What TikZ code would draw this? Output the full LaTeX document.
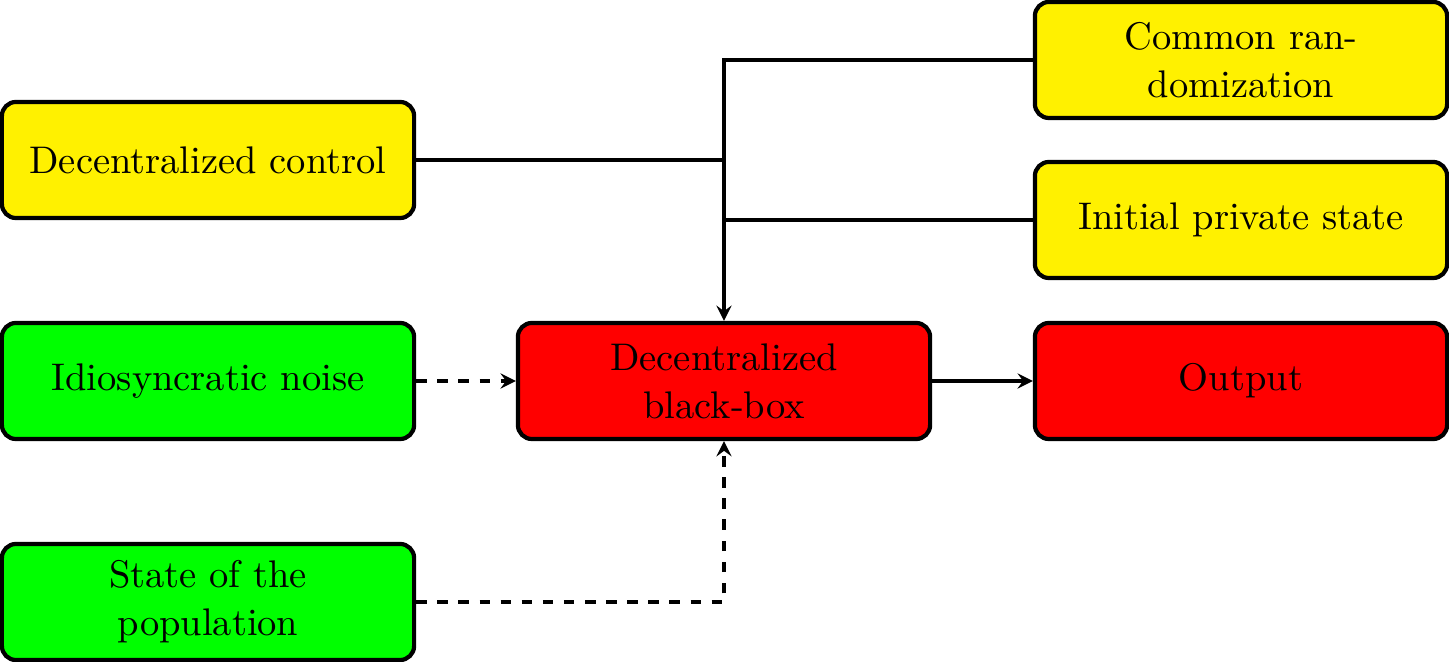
\documentclass[tikz,border=0pt,11pt]{standalone}
\usetikzlibrary{arrows}
\definecolor{boxyellow}{RGB}{255,241,0}
\tikzset{
  block/.style={draw,very thick,rounded corners,minimum width=4.12cm,minimum height=1.16cm,text width=3.7cm,align=center},
  link/.style={line width=0.9pt},
}
\begin{document}
\begin{tikzpicture}[>=stealth,x=0.01cm,y=-0.01cm]
  \useasboundingbox (0,0) rectangle (1449,662);
  \node[block,fill=boxyellow] (ctrl) at (208,160) {Decentralized control};
  \node[block,fill=boxyellow] (rand) at (1241,60) {Common randomization};
  \node[block,fill=boxyellow] (priv) at (1241,220) {Initial private state};
  \node[block,fill=green] (noise) at (208,381) {Idiosyncratic noise};
  \node[block,fill=red] (bbox) at (724,381) {Decentralized black-box};
  \node[block,fill=red] (out) at (1241,381) {Output};
  \node[block,fill=green] (pop) at (208,602) {State of the population};
  \draw[link,->] (rand.west) -| (bbox.north);
  \draw[link] (ctrl.east) -- (ctrl.east -| bbox.north);
  \draw[link] (priv.west) -- (priv.west -| bbox.north);
  \draw[link,->] (bbox) -- (out);
  \draw[link,dashed,->] (noise) -- (bbox);
  \draw[link,dashed,->] (pop.east) -| (bbox.south);
\end{tikzpicture}
\end{document}
